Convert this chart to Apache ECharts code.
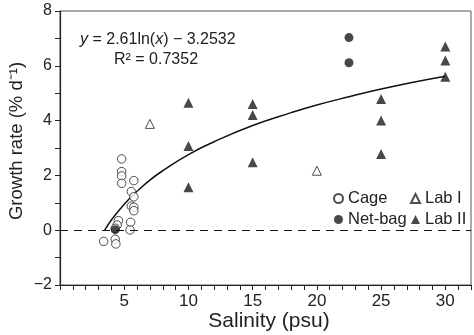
<!DOCTYPE html>
<html>
<head>
<meta charset="utf-8">
<script src="https://cdn.jsdelivr.net/npm/echarts@6/dist/echarts.min.js"></script>
<style>
html,body{margin:0;padding:0;background:#fff;}
#chart{width:474px;height:335px;}
</style>
</head>
<body>
<div id="chart"></div>
<script>
// ---- data ----
var cage = [
  [3.4,-0.41],[4.3,-0.33],[4.35,-0.50],[4.55,0.35],[4.45,0.19],[4.3,0.07],
  [4.8,2.60],[4.8,2.14],[4.8,1.98],[4.8,1.71],
  [5.75,1.81],[5.55,1.41],[5.75,1.22],[5.55,0.88],[5.75,0.84],[5.75,0.71],
  [5.5,0.29],[5.45,0.01]
];
var netBag = [[4.3,0.02],[22.5,7.03],[22.5,6.11]];
var labI = [[7,3.88],[20,2.17]];
var labII = [
  [10,4.65],[10,3.07],[10,1.57],
  [15,4.61],[15,4.20],[15,2.48],
  [25,4.79],[25,4.00],[25,2.78],
  [30,6.70],[30,6.19],[30,5.60]
];
// fitted curve points
var curve = [
  [3.48,0.0],[4,0.37],[5,0.95],[6,1.42],[7,1.83],[8,2.17],[10,2.76],
  [12,3.23],[15,3.82],[18,4.29],[20,4.57],[22.5,4.87],[25,5.15],[27.5,5.40],[30,5.62]
];
var xTickLabels = [5,10,15,20,25,30];
var yTickLabels = [-2,0,2,4,6,8];

var FONT = 'Liberation Sans, Arial, sans-serif';
var INK = '#222';

var chart = echarts.init(document.getElementById('chart'));
chart.setOption({
  animation: false,
  backgroundColor: '#fff',
  grid: {left: 60, right: 1.5, top: 11, bottom: 50, show: true, borderColor: '#555', borderWidth: 1},
  xAxis: {
    type: 'value', min: 0, max: 32, interval: 1,
    axisLine: {onZero: false, lineStyle: {color: INK, width: 1.2}},
    axisTick: {length: 5, lineStyle: {color: INK}},
    axisLabel: {
      interval: 0, margin: 8, color: INK, fontSize: 17, fontFamily: FONT,
      formatter: function (v) { return xTickLabels.indexOf(v) >= 0 ? String(v) : ''; }
    },
    splitLine: {show: false}
  },
  yAxis: {
    type: 'value', min: -2, max: 8, interval: 1,
    axisLine: {show: true, onZero: false, lineStyle: {color: INK, width: 1.2}},
    axisTick: {show: true, length: 5, lineStyle: {color: INK}},
    axisLabel: {
      margin: 8, color: INK, fontSize: 16, fontFamily: FONT,
      formatter: function (v) { return yTickLabels.indexOf(v) >= 0 ? (v < 0 ? '\u2212' + Math.abs(v) : String(v)) : ''; }
    },
    splitLine: {show: false}
  },
  legend: [
    {
      data: ['Cage', 'Net-bag'], orient: 'vertical', left: 328, top: 185,
      itemWidth: 9, itemHeight: 9, itemGap: 4,
      textStyle: {color: INK, fontSize: 16.5, fontFamily: FONT}
    },
    {
      data: ['Lab I', 'Lab II'], orient: 'vertical', left: 405, top: 185,
      itemWidth: 9, itemHeight: 9, itemGap: 4,
      textStyle: {color: INK, fontSize: 16.5, fontFamily: FONT}
    }
  ],
  graphic: [
    {
      type: 'text', left: 80, top: 32,
      style: {
        text: '{i|y} = 2.61ln({i|x}) \u2212 3.2532',
        font: '16px ' + FONT, fill: INK,
        rich: {i: {fontStyle: 'italic', fontSize: 16, fontFamily: FONT, fill: INK}}
      }
    },
    {
      type: 'text', left: 114, top: 52,
      style: {text: 'R\u00b2 = 0.7352', font: '16px ' + FONT, fill: INK}
    },
    {
      type: 'text', x: 269, y: 321,
      style: {text: 'Salinity (psu)', font: '21px ' + FONT, fill: INK, align: 'center', verticalAlign: 'middle'}
    },
    {
      type: 'text', x: 17, y: 141, rotation: Math.PI / 2,
      style: {text: 'Growth rate (% d\u207b\u00b9)', font: '18.5px ' + FONT, fill: INK, align: 'center', verticalAlign: 'middle'}
    }
  ],
  series: [
    {
      name: 'fit', type: 'line', data: curve, smooth: true, showSymbol: false, symbol: 'none',
      lineStyle: {color: '#111', width: 1.5}, z: 1,
      markLine: {
        silent: true, symbol: 'none', label: {show: false},
        lineStyle: {color: '#111', width: 1.2, type: [8, 6]},
        data: [[{coord: [0, 0]}, {coord: [32, 0]}]]
      }
    },
    {
      name: 'Cage', type: 'scatter', data: cage, symbol: 'circle', symbolSize: 8.5,
      itemStyle: {color: '#fff', borderColor: '#222', borderWidth: 1}, z: 3
    },
    {
      name: 'Lab I', type: 'scatter', data: labI, symbol: 'triangle', symbolSize: 9,
      itemStyle: {color: '#fff', borderColor: '#222', borderWidth: 1}, z: 3
    },
    {
      name: 'Net-bag', type: 'scatter', data: netBag, symbol: 'circle', symbolSize: 9,
      itemStyle: {color: '#1a1a1a'}, z: 4
    },
    {
      name: 'Lab II', type: 'scatter', data: labII, symbol: 'triangle', symbolSize: 10,
      itemStyle: {color: '#1a1a1a'}, z: 4
    }
  ]
});
</script>
</body>
</html>
